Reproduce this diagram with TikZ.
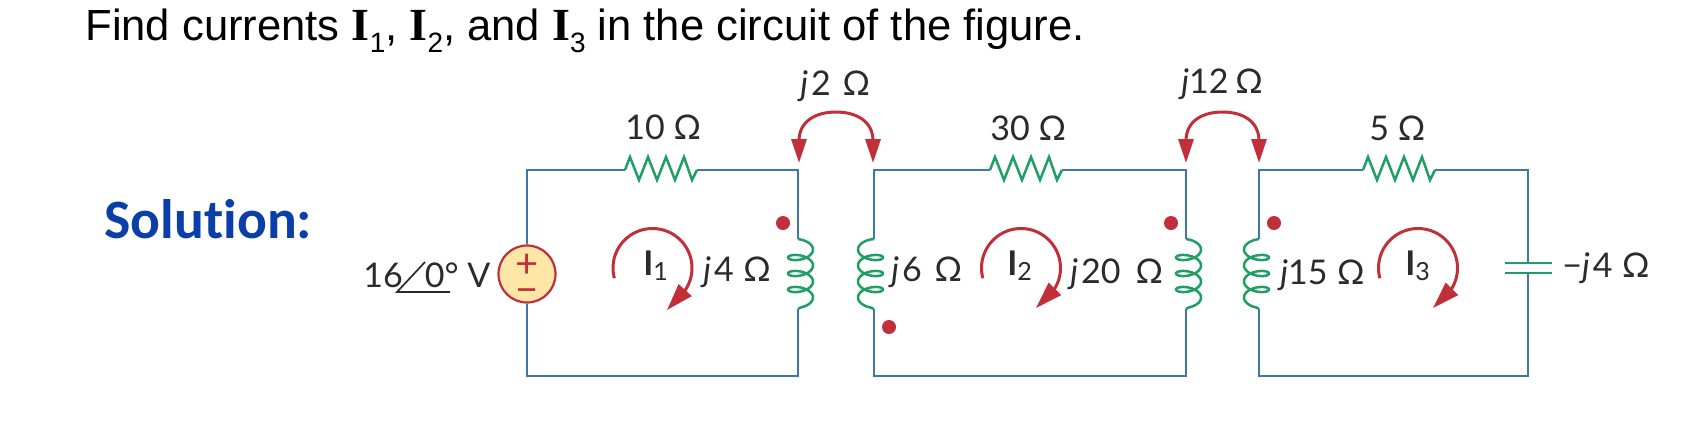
\documentclass[tikz,border=0pt]{standalone}
\usepackage{fontspec}
\usetikzlibrary{arrows.meta}
\setmainfont{Liberation Sans}
\newfontfamily\lato{Lato}
\newfontfamily\carl[Ligatures=NoCommon]{Carlito}
\newfontfamily\tserif{Liberation Serif}
\definecolor{wireblue}{HTML}{3F78A8}
\definecolor{compgreen}{HTML}{1F9E66}
\definecolor{markred}{HTML}{C02F3A}
\definecolor{srcfill}{HTML}{FDE6A6}
\definecolor{txtgrey}{HTML}{2B2B2B}
\definecolor{solblue}{HTML}{0A3FAA}
\newcommand\drawres[2]{\draw[comp] (#1) -- ++(5,-13) -- ++(9,23) -- ++(9,-23) -- ++(9,23) -- ++(9,-23) -- ++(9,23) -- ++(9,-23) -- ++(8,23) -- (#2);}
\newcommand\drawcoil[4]{\draw[comp] (#1) -- plot[domain=-90:1170,samples=220,smooth] ({#3+#4*12.5*cos(\x)},{249.5+\x/22.5+6*sin(\x)}) -- (#2);}
\newcommand\drawloop[3]{\draw[loopcur] plot[domain=165:394,samples=50,smooth] ({#1+39.5*cos(\x)},{#2+39.5*sin(\x)}) -- (#3);}
\newcommand\elemtxt{\lato\fontsize{17}{19}\selectfont}
\newcommand\jj{\textit{j}\kern1.5pt}
\newcommand\ohm[1]{\hspace{#1} Ω}
\tikzset{
  x=0.5pt,y=-0.5pt,
  wire/.style={draw=wireblue,line width=1.3pt,line join=miter},
  comp/.style={draw=compgreen,line width=1.25pt,line join=miter},
  loopcur/.style={draw=markred,line width=1.5pt,-{Triangle[length=13.5pt,width=8.5pt]},markred},
  mutual/.style={draw=markred,line width=1.5pt,{Triangle[length=12pt,width=7.5pt]}-{Triangle[length=12pt,width=7.5pt]}},
  dotmark/.style={circle,fill=markred,inner sep=0pt,minimum size=7pt},
  lbl/.style={anchor=base west,inner sep=0pt,text=txtgrey,font=\elemtxt},
  cur/.style={anchor=base west,inner sep=0pt,text=txtgrey,font=\lato\fontsize{17}{19}\selectfont},
}
\newcommand\curlab[1]{{\bfseries I}\raisebox{-2.8pt}{\fontsize{12.5}{13}\selectfont #1}}
\newcommand\boldI[1]{{\tserif\bfseries\fontsize{23}{24}\selectfont I}\raisebox{-6pt}{\fontsize{14}{15}\selectfont #1}}
\begin{document}
\begin{tikzpicture}
\useasboundingbox[fill=white] (0,0) rectangle (1693,436);
% texts
\node[anchor=base west,inner sep=0pt,font=\fontsize{21.8}{24}\selectfont] (title) at (85,40)
  {Find currents \boldI{1}, \boldI{2}, and \boldI{3} in the circuit of the figure.};
\node[anchor=base west,inner sep=0pt,text=solblue,font=\carl\bfseries\fontsize{27.8}{30}\selectfont] (sol) at (104,238) {Solution:};
% junctions
\coordinate (a1) at (527,170); \coordinate (a2) at (798,170); \coordinate (a3) at (798,376); \coordinate (a4) at (527,376);
\coordinate (b1) at (874,170); \coordinate (b2) at (1186,170); \coordinate (b3) at (1186,376); \coordinate (b4) at (874,376);
\coordinate (c1) at (1259,170); \coordinate (c2) at (1528,170); \coordinate (c3) at (1528,376); \coordinate (c4) at (1259,376);
\coordinate (r1l) at (625,170); \coordinate (r1r) at (697,170);
\coordinate (r2l) at (990,170); \coordinate (r2r) at (1062,170);
\coordinate (r3l) at (1363,170); \coordinate (r3r) at (1435,170);
\coordinate (l1t) at (798,239); \coordinate (l1b) at (798,309);
\coordinate (l2t) at (874,239); \coordinate (l2b) at (874,309);
\coordinate (l3t) at (1186,239); \coordinate (l3b) at (1186,309);
\coordinate (l4t) at (1259,239); \coordinate (l4b) at (1259,309);
\coordinate (cpt) at (1528,263); \coordinate (cpb) at (1528,273);
\coordinate (cptl) at (1505,263); \coordinate (cptr) at (1552,263);
\coordinate (cpbl) at (1505,273); \coordinate (cpbr) at (1552,273);
% source
\node[circle,draw=markred,fill=srcfill,line width=1.1pt,minimum size=28.5pt,inner sep=0pt] (src) at (527,274) {};
\node[inner sep=0pt,text=markred,font=\lato\fontsize{20}{22}\selectfont] (plus) at (527,266) {+};
\node[inner sep=0pt,text=markred,font=\lato\fontsize{20}{22}\selectfont] (minus) at (527,296) {−};
% wires
\draw[wire] (src.north) -- (a1) -- (r1l);
\draw[wire] (r1r) -- (a2) -- (l1t);
\draw[wire] (l1b) -- (a3) -- (a4) -- (src.south);
\draw[wire] (l2t) -- (b1) -- (r2l);
\draw[wire] (r2r) -- (b2) -- (l3t);
\draw[wire] (l3b) -- (b3) -- (b4) -- (l2b);
\draw[wire] (l4t) -- (c1) -- (r3l);
\draw[wire] (r3r) -- (c2) -- (cpt);
\draw[wire] (cpb) -- (c3) -- (c4) -- (l4b);
% resistors
\drawres{r1l}{r1r}
\drawres{r2l}{r2r}
\drawres{r3l}{r3r}
% coils
\drawcoil{l1t}{l1b}{800.5}{1}
\drawcoil{l2t}{l2b}{870.5}{-1}
\drawcoil{l3t}{l3b}{1188.5}{1}
\drawcoil{l4t}{l4b}{1256.5}{-1}
% capacitor
\draw[comp] (cptl) -- (cptr);
\draw[comp] (cpbl) -- (cpbr);
% dots
\node[dotmark] (d1) at (783,223) {};
\node[dotmark] (d2) at (889,327) {};
\node[dotmark] (d3) at (1171,223) {};
\node[dotmark] (d4) at (1274,223) {};
% mutual arcs
\coordinate (m1l) at (799,163); \coordinate (m1r) at (873,163);
\coordinate (m2l) at (1186,163); \coordinate (m2r) at (1259,163);
\draw[mutual] (m1l) -- ++(0,-22) .. controls +(0,-20) and +(-20,0) .. ++(37,-29) .. controls +(20,0) and +(0,-20) .. ++(37,29) -- (m1r);
\draw[mutual] (m2l) -- ++(0,-22) .. controls +(0,-20) and +(-20,0) .. ++(36.5,-29) .. controls +(20,0) and +(0,-20) .. ++(36.5,29) -- (m2r);
% mesh arrows
\coordinate (t1) at (667,310); \coordinate (t2) at (1036,308); \coordinate (t3) at (1433,308);
\drawloop{652.5}{268}{t1}
\drawloop{1021}{268}{t2}
\drawloop{1418}{268}{t3}
% angle
\node[lbl] (v) at (363,287) {16\hspace{11pt}0° V};
\coordinate (ang1) at (425,262); \coordinate (ang2) at (397,292); \coordinate (ang3) at (450,292);
\draw[txtgrey,line width=0.85pt] (ang1) -- (ang2) -- (ang3);
% labels
\node[lbl] (n10) at (625,139) {10 Ω};
\node[lbl] (n30) at (990,140) {30 Ω};
\node[lbl] (n5) at (1369,140) {5 Ω};
\node[lbl] (nm1) at (800,95) {\jj2\ohm{1.5pt}};
\node[lbl] (nm2) at (1181,93) {\textit{j}12\ohm{-1pt}};
\node[lbl] (nl1) at (703,281) {\jj4\ohm{0.4pt}};
\node[lbl] (nl2) at (891,281) {\jj6\ohm{2pt}};
\node[lbl] (nl3) at (1070,283) {\jj20\ohm{3.1pt}};
\node[lbl] (nl4) at (1280,284) {\textit{j}15\ohm{0.4pt}};
\node[lbl] (nc) at (1562,277) {−\jj4\ohm{0.4pt}};
\node[cur] (i1) at (643,275) {\curlab{1}};
\node[cur] (i2) at (1007,275) {\curlab{2}};
\node[cur] (i3) at (1405,275) {\curlab{3}};
\end{tikzpicture}
\end{document}
